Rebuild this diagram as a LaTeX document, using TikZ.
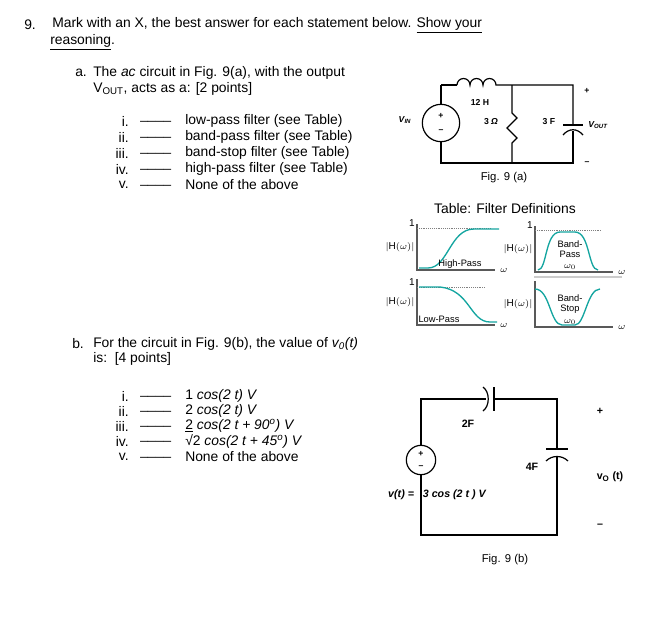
\documentclass[tikz,border=0pt]{standalone}
\usepackage{fontspec}
\setmainfont{Liberation Sans}
\usepackage{xcolor}
\definecolor{curve}{RGB}{20,165,160}
\begin{document}
\begin{tikzpicture}[x=0.75pt,y=-0.75pt,
	txt/.style={anchor=west,inner sep=0pt,font=\fontsize{10.4}{12}\selectfont},
	num/.style={anchor=east,inner sep=0pt,font=\fontsize{10.4}{12}\selectfont},
	lbl/.style={inner sep=0pt,font=\fontsize{6.5}{8}\selectfont\bfseries},
	wire/.style={line width=0.9pt},
	axis/.style={line width=1.1pt,gray!70!black},
	resp/.style={line width=1pt,curve},
	hw/.style={inner sep=0pt,font=\fontsize{7.5}{8}\rmfamily}]
	\useasboundingbox (0,0) rectangle (647,625);
	
	% question text
	\node[txt] (q) at (24,25) {9.};
	\node[txt] (q1) at (52,25) {Mark with an X, the best answer for each statement below. \underline{Show your}};
	\node[txt] (q2) at (50,42) {\underline{reasoning}.};
	\node[txt] (pa) at (75,73) {a.};
	\node[txt] (pa1) at (93,73) {The \textit{ac} circuit in Fig. 9(a), with the output};
	\node[txt] (pa2) at (93,89) {V\textsubscript{OUT}, acts as a: [2 points]};
	\node[num] (ai) at (129,121) {i.};
	\node[num] (aii) at (129,137) {ii.};
	\node[num] (aiii) at (129,153) {iii.};
	\node[num] (aiv) at (129,169) {iv.};
	\node[num] (av) at (129,185) {v.};
	\foreach \y in {121,137,153,169,185}
		\node[txt] at (140,\y) {\_\_\_\_};
	\node[txt] (ta1) at (185,121) {low-pass filter (see Table)};
	\node[txt] (ta2) at (185,137) {band-pass filter (see Table)};
	\node[txt] (ta3) at (185,153) {band-stop filter (see Table)};
	\node[txt] (ta4) at (185,169) {high-pass filter (see Table)};
	\node[txt] (ta5) at (185,185) {None of the above};
	
	\node[txt] (pb) at (72,344) {b.};
	\node[txt] (pb1) at (93,344) {For the circuit in Fig. 9(b), the value of \textit{v\textsubscript{0}(t)}};
	\node[txt] (pb2) at (93,359) {is:\ \ [4 points]};
	\node[num] (bi) at (129,396) {i.};
	\node[num] (bii) at (129,411) {ii.};
	\node[num] (biii) at (129,426) {iii.};
	\node[num] (biv) at (129,441) {iv.};
	\node[num] (bv) at (129,457) {v.};
	\foreach \y in {396,411,426,441,457}
		\node[txt] at (140,\y) {\_\_\_\_};
	\node[txt] (tb1) at (185,396) {1 \textit{cos(2 t) V}};
	\node[txt] (tb2) at (185,411) {2 \textit{cos(2 t) V}};
	\node[txt] (tb3) at (185,426) {\underline{2} \textit{cos(2 t + 90\textsuperscript{o}) V}};
	\node[txt] (tb4) at (185,441) {√2 \textit{cos(2 t + 45\textsuperscript{o}) V}};
	\node[txt] (tb5) at (185,457) {None of the above};
	
	% circuit (a)
	\coordinate (tl) at (441,85);
	\coordinate (bl) at (441,163);
	\coordinate (tm) at (512,85);
	\coordinate (bm) at (512,163);
	\coordinate (tr) at (573,85);
	\coordinate (br) at (573,163);
	\node[draw,circle,wire,minimum size=28pt,inner sep=0pt] (vin) at (441,123) {};
	\node[lbl] at (441,116) {+};
	\node[lbl] at (441,131) {--};
	\draw[wire] (tl) -- (vin.north) (vin.south) -- (bl) -- (br) -- (573,131);
	\draw[wire] (tl) -- (457,85);
	\draw[wire] (457,85) arc[start angle=180,end angle=360,radius=6.5]
		arc[start angle=180,end angle=360,radius=6.5]
		arc[start angle=180,end angle=360,radius=6.5] -- (tr) -- (573,125);
	\draw[wire] (tm) -- (512,113) -- (517,118) -- (507,128) -- (517,138) -- (512,143) -- (bm);
	\draw[wire] (563,125) -- (583,125);
	\draw[wire] (563,135) .. controls (569,128) and (577,128) .. (583,135);
	\node[lbl] at (480,102) {12 H};
	\node[lbl] at (491,122) {3 \textit{Ω}};
	\node[lbl] at (549,122) {3 F};
	\node[lbl] at (405,120) {\textit{V\textsubscript{IN}}};
	\node[lbl] at (598,125) {\textit{V\textsubscript{OUT}}};
	\node[lbl] at (587,91) {+};
	\node[lbl] at (587,163) {--};
	\node[inner sep=0pt,font=\fontsize{8.5}{10}\selectfont] at (504,178) {Fig. 9 (a)};
	
	% filter table
	\node[txt,anchor=center] (tab) at (505,209) {Table: Filter Definitions};
	\draw[gray!40,line width=2pt] (534,277) -- (622,277);
	\foreach \x/\y/\n in {417/270/hp,535/272/bp,417/325/lp,535/327/bs}{
		\coordinate (\n) at (\x,\y);
		\draw[axis] (\x,\y-46) -- (\x,\y) -- (\x+78,\y);
		\node[hw] at (\x-17,\y-23) {$|\mathrm{H}(\omega)|$};
		\node[hw] at (\x+87,\y) {$\omega$};
	}
	\node[hw] at (412,223) {1};
	\node[hw] at (530,225) {1};
	\node[hw] at (412,282) {1};
	\draw[densely dotted,gray] (417,228) -- (490,228);
	\draw[densely dotted,gray] (535,230) -- (602,230);
	\draw[densely dotted,gray] (417,287) -- (485,287);
	\draw[resp] (419,268) -- (428,268) .. controls (448,268) and (450,229) .. (474,229) -- (499,229);
	\draw[resp] (538,270) .. controls (547,270) and (545,232) .. (560,232) -- (575,232)
		.. controls (590,232) and (588,270) .. (598,270);
	\draw[resp] (419,287) -- (440,287) .. controls (470,290) and (470,322) .. (490,322) -- (497,322);
	\draw[resp] (535,289) .. controls (550,289) and (550,325) .. (562,325) -- (575,325)
		.. controls (585,325) and (587,289) .. (600,289);
	\node[inner sep=0pt,font=\fontsize{7}{8}\selectfont] at (460,264) {High-Pass};
	\node[inner sep=0pt,font=\fontsize{7}{8}\selectfont] at (439,319) {Low-Pass};
	\node[inner sep=0pt,font=\fontsize{7}{8}\selectfont,align=center] at (570,249) {Band-\\Pass};
	\node[hw] at (570,267) {$\omega_0$};
	\node[inner sep=0pt,font=\fontsize{7}{8}\selectfont,align=center] at (570,304) {Band-\\Stop};
	\node[hw] at (570,322) {$\omega_0$};
	
	% circuit (b)
	\coordinate (ul) at (421,399);
	\coordinate (ur) at (557,399);
	\coordinate (ll) at (421,535);
	\coordinate (lr) at (557,535);
	\node[draw,circle,wire,minimum size=22pt,inner sep=0pt] (vs) at (421,460) {};
	\node[lbl] at (421,454) {+};
	\node[lbl] at (421,467) {--};
	\draw[wire] (vs.north) -- (ul) -- (486,399);
	\draw[wire] (483,387) .. controls (490,392) and (490,406) .. (483,411);
	\draw[wire] (494,387) -- (494,411);
	\draw[wire] (494,399) -- (ur) -- (557,449);
	\draw[wire] (546,449) -- (568,449);
	\draw[wire] (546,461) .. controls (552,455) and (562,455) .. (568,461);
	\draw[wire] (557,457) -- (lr) -- (ll) -- (vs.south);
	\node[lbl,font=\fontsize{8}{10}\selectfont\bfseries] at (468,424) {2F};
	\node[lbl,font=\fontsize{8}{10}\selectfont\bfseries] at (532,467) {4F};
	\node[lbl,font=\fontsize{8}{10}\selectfont\bfseries] at (610,477) {v\textsubscript{O} (t)};
	\node[lbl,font=\fontsize{8}{10}\selectfont\bfseries] at (600,411) {+};
	\node[lbl,font=\fontsize{8}{10}\selectfont\bfseries] at (600,526) {--};
	\node[lbl,font=\fontsize{8}{10}\selectfont\bfseries\itshape,fill=white,inner sep=1pt] at (437,495) {v(t) = \ \ 3 cos (2 t ) V};
	\draw[wire] (421,489) -- (421,501);
	\node[inner sep=0pt,font=\fontsize{8.5}{10}\selectfont] at (505,560) {Fig. 9 (b)};
\end{tikzpicture}
\end{document}
